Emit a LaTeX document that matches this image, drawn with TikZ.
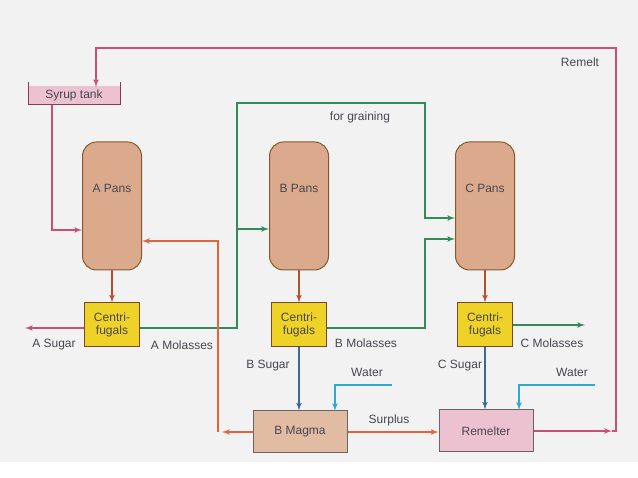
\documentclass[tikz,border=0pt]{standalone}
\usepackage{fontspec}
\setmainfont{Liberation Sans}
\usetikzlibrary{shapes,arrows,positioning}
\definecolor{panbrown}{RGB}{219,170,140}
\definecolor{centyellow}{RGB}{238,210,40}
\definecolor{remelt}{RGB}{200,80,120}
\definecolor{molgreen}{RGB}{50,140,90}
\definecolor{magorange}{RGB}{225,100,60}
\definecolor{sugblue}{RGB}{60,100,160}
\definecolor{watcyan}{RGB}{40,170,210}
\definecolor{labgrey}{RGB}{70,70,80}
\tikzset{
  pan/.style={draw=brown!70!black, fill=panbrown, rounded corners=14pt,
    minimum width=59pt, minimum height=128pt, inner sep=0pt, line width=1pt},
  cent/.style={draw=brown!60!black, fill=centyellow, minimum width=55pt,
    minimum height=44pt, inner sep=0pt, align=center, font=\fontsize{12}{13}\selectfont, text=labgrey, line width=1pt},
  unit/.style={draw=gray!80!black, minimum width=94pt, minimum height=42pt,
    inner sep=0pt, font=\fontsize{12}{13}\selectfont, text=labgrey, line width=1pt},
  lab/.style={font=\fontsize{12}{13}\selectfont, text=labgrey},
  flow/.style={-latex', line width=1.6pt}
}
\begin{document}
\begin{tikzpicture}[x=1pt,y=-1pt]
	\useasboundingbox (0,0) rectangle (638,478);
	\fill[gray!10] (0,0) rectangle (638,462);
	% syrup tank
	\fill[remelt!35] (28,86) rectangle (120,105);
	\draw[remelt!70!black, line width=1pt] (28,82) -- (28,105) -- (120,105) -- (120,82);
	\node[lab, inner sep=0pt] (tank) at (74,95) {Syrup tank};
	% pans
	\node[pan, label={[lab,yshift=18pt]center:A Pans}] (apan) at (112,206) {};
	\node[pan, label={[lab,yshift=18pt]center:B Pans}] (bpan) at (299,206) {};
	\node[pan, label={[lab,yshift=18pt]center:C Pans}] (cpan) at (485,206) {};
	% centrifugals
	\foreach \n/\x in {acent/112,bcent/299,ccent/485} {
		\node[cent] (\n) at (\x,325) {Centri-\\fugals};
	}
	\foreach \p/\c in {apan/acent,bpan/bcent,cpan/ccent}
		\draw[flow, magorange!80!black] (\p.south) -- (\c.north);
	% magma and remelter
	\node[unit, fill=panbrown!80] (magma) at (300,432) {B Magma};
	\node[unit, fill=remelt!35] (remelter) at (486,431) {Remelter};
	% remelt loop
	\coordinate (rtop) at (616,48);
	\draw[flow, remelt] (remelter.east) -- (612,431);
	\draw[flow, remelt] (612,431) -- (616,431) -- (rtop) -| (96,87);
	\node[lab] (remeltlab) at (580,62) {Remelt};
	\draw[flow, remelt] (52,105) |- (apan.west |- 0,230);
	% sugars
	\draw[flow, remelt] (acent.west |- 0,328) -- (25,328);
	\node[lab] (asug) at (54,345) {A Sugar};
	\draw[flow, sugblue] (bcent.south) -- (bcent.south |- magma.north);
	\node[lab] (bsug) at (268,366) {B Sugar};
	\draw[flow, sugblue] (ccent.south) -- (ccent.south |- remelter.north);
	\node[lab] (csug) at (460,366) {C Sugar};
	% water
	\draw[flow, watcyan] (392,385) -| (335,411);
	\node[lab] (wat1) at (367,372) {Water};
	\draw[flow, watcyan] (595,385) -| (519,410);
	\node[lab] (wat2) at (572,372) {Water};
	% molasses
	\draw[flow, molgreen] (acent.east |- 0,328) -| (237,103) -| (425,218) -- (cpan.west |- 0,218);
	\draw[flow, molgreen] (237,229) -- (bpan.west |- 0,229);
	\draw[flow, molgreen] (bcent.east |- 0,328) -| (425,239) -- (cpan.west |- 0,239);
	\draw[flow, molgreen] (ccent.east |- 0,325) -- (585,325);
	\node[lab] (forgr) at (360,117) {for graining};
	\node[lab] (amol) at (182,345) {A Molasses};
	\node[lab] (bmol) at (366,343) {B Molasses};
	\node[lab] (cmol) at (552,343) {C Molasses};
	% magma return and surplus
	\draw[flow, magorange] (magma.west) -- (222,432);
	\draw[flow, magorange] (218,432) |- (apan.east |- 0,241);
	\draw[flow, magorange] (magma.east) -- (remelter.west |- magma.east);
	\node[lab] (surp) at (389,420) {Surplus};
\end{tikzpicture}
\end{document}
